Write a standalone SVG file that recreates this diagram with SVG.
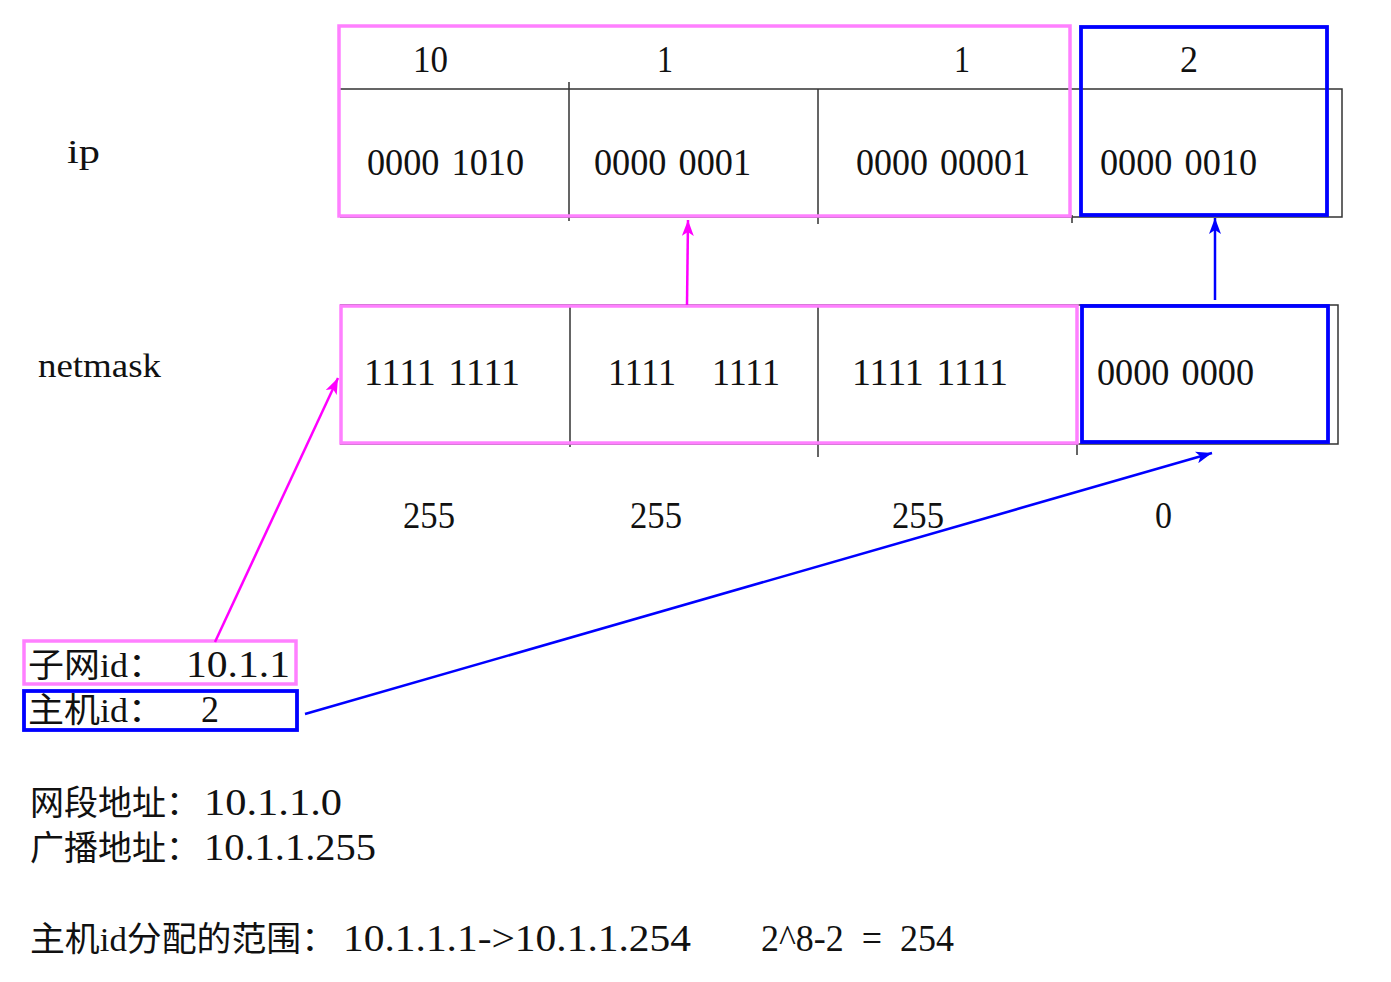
<svg xmlns="http://www.w3.org/2000/svg" width="1391" height="982" viewBox="0 0 1391 982">
<defs>
<style>
.t{font-family:"Liberation Serif","Noto Sans CJK SC",serif;font-size:37px;fill:#111}
.l{font-family:"Liberation Serif","Noto Sans CJK SC",serif;font-size:34px;fill:#111}
.c{font-family:"Liberation Serif","Noto Sans CJK SC",sans-serif;font-size:34px;fill:#111}
.grid{stroke:#333;stroke-width:1.5;fill:none}
.pink{fill:none;stroke:#ff80ff;stroke-width:3.5}
.blue{fill:none;stroke:#0000ff;stroke-width:3.8}
.am{stroke:#ff00ff;stroke-width:2.5;fill:none}
.ab{stroke:#0000ff;stroke-width:2.5;fill:none}
</style>
<marker id="hm" markerUnits="userSpaceOnUse" markerWidth="18" markerHeight="12" refX="16" refY="6" orient="auto"><path d="M0,0 L16,6 L0,12 L4,6 Z" fill="#ff00ff"/></marker>
<marker id="hb" markerUnits="userSpaceOnUse" markerWidth="18" markerHeight="12" refX="16" refY="6" orient="auto"><path d="M0,0 L16,6 L0,12 L4,6 Z" fill="#0000ff"/></marker>
</defs>
<rect width="1391" height="982" fill="#fff"/>

<g id="ip-label"><text class="l" x="67" y="163" textLength="33" lengthAdjust="spacingAndGlyphs">ip</text></g>
<g id="netmask-label"><text class="l" x="38" y="377" textLength="123" lengthAdjust="spacingAndGlyphs">netmask</text></g>

<g id="ip-table">
<path class="grid" d="M340,89 H1342 V217 H340 M569,82 V221 M818,89 V224 M1072,215 V223"/>
<text class="t" x="413" y="72" textLength="35" lengthAdjust="spacingAndGlyphs">10</text>
<text class="t" x="657" y="72" textLength="16" lengthAdjust="spacingAndGlyphs">1</text>
<text class="t" x="954" y="72" textLength="16" lengthAdjust="spacingAndGlyphs">1</text>
<text class="t" x="1180" y="72" textLength="18" lengthAdjust="spacingAndGlyphs">2</text>
<text class="t" x="367" y="175" textLength="157" lengthAdjust="spacingAndGlyphs">0000&#8196;1010</text>
<text class="t" x="594" y="175" textLength="157" lengthAdjust="spacingAndGlyphs">0000&#8196;0001</text>
<text class="t" x="856" y="175" textLength="174" lengthAdjust="spacingAndGlyphs">0000&#8196;00001</text>
<text class="t" x="1100" y="175" textLength="157" lengthAdjust="spacingAndGlyphs">0000&#8196;0010</text>
<rect class="pink" x="339" y="26" width="731" height="190"/>
<rect class="blue" x="1081" y="27" width="246" height="188"/>
</g>

<g id="netmask-table">
<path class="grid" d="M340,305 H1338 V444 H340 M570,305 V447 M818,305 V457 M1077,442 V455"/>
<text class="t" x="364" y="385" textLength="156" lengthAdjust="spacingAndGlyphs">1111&#8196;1111</text>
<text class="t" x="608" y="385" textLength="172" lengthAdjust="spacingAndGlyphs">1111&#8196;&#8196;&#8196;1111</text>
<text class="t" x="852" y="385" textLength="156" lengthAdjust="spacingAndGlyphs">1111&#8196;1111</text>
<text class="t" x="1097" y="385" textLength="157" lengthAdjust="spacingAndGlyphs">0000&#8196;0000</text>
<rect class="pink" x="341" y="306" width="736" height="137"/>
<rect class="blue" x="1082" y="306" width="246" height="136"/>
</g>

<g id="mask-decimals">
<text class="t" x="403" y="528" textLength="52" lengthAdjust="spacingAndGlyphs">255</text>
<text class="t" x="630" y="528" textLength="52" lengthAdjust="spacingAndGlyphs">255</text>
<text class="t" x="892" y="528" textLength="52" lengthAdjust="spacingAndGlyphs">255</text>
<text class="t" x="1155" y="528" textLength="17" lengthAdjust="spacingAndGlyphs">0</text>
</g>

<g id="subnet-box">
<rect class="pink" x="24" y="641" width="272" height="43"/>
<text class="c" x="28" y="677"><tspan textLength="136" lengthAdjust="spacingAndGlyphs">子网id：</tspan><tspan class="t" x="186" textLength="104" lengthAdjust="spacingAndGlyphs">10.1.1</tspan></text>
</g>
<g id="host-box">
<rect class="blue" x="24" y="691" width="273" height="39"/>
<text class="c" x="28" y="722"><tspan textLength="136" lengthAdjust="spacingAndGlyphs">主机id：</tspan><tspan class="t" x="201" textLength="18" lengthAdjust="spacingAndGlyphs">2</tspan></text>
</g>

<g id="notes">
<text class="c" x="30" y="815"><tspan textLength="170" lengthAdjust="spacingAndGlyphs">网段地址：</tspan><tspan class="t" x="204" textLength="138" lengthAdjust="spacingAndGlyphs">10.1.1.0</tspan></text>
<text class="c" x="30" y="860"><tspan textLength="170" lengthAdjust="spacingAndGlyphs">广播地址：</tspan><tspan class="t" x="204" textLength="172" lengthAdjust="spacingAndGlyphs">10.1.1.255</tspan></text>
<text class="c" x="30" y="951"><tspan textLength="306" lengthAdjust="spacingAndGlyphs">主机id分配的范围：</tspan><tspan class="t" x="343" textLength="348" lengthAdjust="spacingAndGlyphs">10.1.1.1-&gt;10.1.1.254</tspan></text>
<text class="t" x="761" y="951" textLength="193" lengthAdjust="spacingAndGlyphs">2^8-2&#8194;=&#8194;254</text>
</g>

<g id="connectors">
<line class="am" x1="687" y1="305" x2="688" y2="220" marker-end="url(#hm)"/>
<line class="ab" x1="1215" y1="300" x2="1215" y2="218" marker-end="url(#hb)"/>
<line class="am" x1="215" y1="642" x2="338" y2="378" marker-end="url(#hm)"/>
<line class="ab" x1="305" y1="714" x2="1212" y2="453" marker-end="url(#hb)"/>
</g>
</svg>
